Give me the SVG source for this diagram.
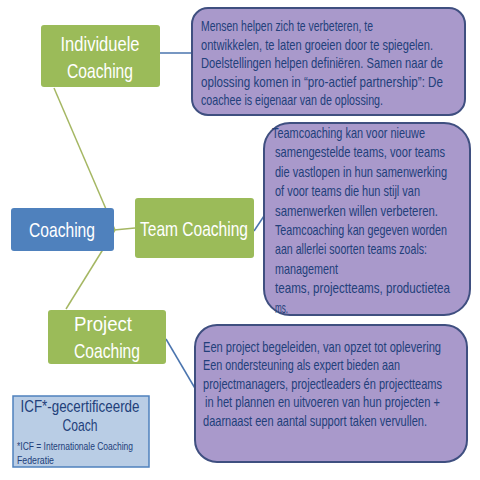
<svg xmlns="http://www.w3.org/2000/svg" width="480" height="480" viewBox="0 0 480 480">
<style>
.g{fill:#9BBB59;}
.w{fill:#fff;font-family:"Liberation Sans",Arial,sans-serif;font-size:21px;text-anchor:middle;}
.p{fill:#A999CB;stroke:#3F4F80;stroke-width:2;}
.t{fill:#22407A;font-family:"Liberation Sans",Arial,sans-serif;font-size:14.5px;}
.s{fill:#22407A;font-family:"Liberation Sans",Arial,sans-serif;}
.cg{stroke:#A5B763;stroke-width:1.5;fill:none;}
.cb{stroke:#4A74AE;stroke-width:1.5;fill:none;}
</style>
<rect width="480" height="480" fill="#fff"/>
<g id="connectors">
<line class="cg" x1="115" y1="230" x2="54" y2="88"/>
<line class="cg" x1="114" y1="230" x2="135" y2="228"/>
<line class="cg" x1="115" y1="230" x2="66" y2="309"/>
<line class="cb" x1="160" y1="53" x2="193" y2="53"/>
<line class="cb" x1="254" y1="231" x2="264" y2="216"/>
<line class="cb" x1="166" y1="339" x2="196" y2="390"/>
</g>
<g id="coaching">
<rect x="11" y="208" width="103" height="43" rx="3" fill="#4F81BD"/>
<text class="w" x="62" y="237" textLength="66" lengthAdjust="spacingAndGlyphs">Coaching</text>
</g>
<g id="individuele">
<rect class="g" x="41" y="25" width="119" height="62" rx="3"/>
<text class="w" x="100" y="51" textLength="79" lengthAdjust="spacingAndGlyphs">Individuele</text>
<text class="w" x="100" y="78" textLength="66" lengthAdjust="spacingAndGlyphs">Coaching</text>
</g>
<g id="team">
<rect class="g" x="135" y="198" width="119" height="60" rx="3"/>
<text class="w" x="194" y="236" textLength="108" lengthAdjust="spacingAndGlyphs">Team Coaching</text>
</g>
<g id="project">
<rect class="g" x="48" y="310" width="118" height="54" rx="3"/>
<text class="w" x="103" y="331" textLength="58" lengthAdjust="spacingAndGlyphs">Project</text>
<text class="w" x="107" y="358" textLength="66" lengthAdjust="spacingAndGlyphs">Coaching</text>
</g>
<g id="desc-individueel">
<rect class="p" x="192" y="8" width="273" height="107" rx="16"/>
<text class="t" x="201" y="31" textLength="172" lengthAdjust="spacingAndGlyphs">Mensen helpen zich te verbeteren, te</text>
<text class="t" x="201" y="50" textLength="232" lengthAdjust="spacingAndGlyphs">ontwikkelen, te laten groeien door te spiegelen.</text>
<text class="t" x="201" y="68" textLength="242" lengthAdjust="spacingAndGlyphs">Doelstellingen helpen definiëren. Samen naar de</text>
<text class="t" x="201" y="87" textLength="242" lengthAdjust="spacingAndGlyphs">oplossing komen in “pro-actief partnership”: De</text>
<text class="t" x="201" y="105" textLength="182" lengthAdjust="spacingAndGlyphs">coachee is eigenaar van de oplossing.</text>
</g>
<g id="desc-team">
<rect class="p" x="264" y="123" width="206" height="192" rx="26"/>
<text class="t" x="272" y="138" textLength="153" lengthAdjust="spacingAndGlyphs">Teamcoaching kan voor nieuwe</text>
<text class="t" x="275" y="157.4" textLength="170" lengthAdjust="spacingAndGlyphs">samengestelde teams, voor teams</text>
<text class="t" x="275" y="176.8" textLength="172" lengthAdjust="spacingAndGlyphs">die vastlopen in hun samenwerking</text>
<text class="t" x="275" y="196.2" textLength="145" lengthAdjust="spacingAndGlyphs">of voor teams die hun stijl van</text>
<text class="t" x="275" y="215.6" textLength="163" lengthAdjust="spacingAndGlyphs">samenwerken willen verbeteren.</text>
<text class="t" x="275" y="235" textLength="172" lengthAdjust="spacingAndGlyphs">Teamcoaching kan gegeven worden</text>
<text class="t" x="275" y="254.4" textLength="152" lengthAdjust="spacingAndGlyphs">aan allerlei soorten teams zoals:</text>
<text class="t" x="275" y="273.8" textLength="63" lengthAdjust="spacingAndGlyphs">management</text>
<text class="t" x="275" y="293.2" textLength="175" lengthAdjust="spacingAndGlyphs">teams, projectteams, productietea</text>
<text class="t" x="275" y="312.6" textLength="13" lengthAdjust="spacingAndGlyphs">ms.</text>
</g>
<g id="desc-project">
<rect class="p" x="195" y="325" width="272" height="137" rx="22"/>
<text class="t" x="203" y="352" textLength="238" lengthAdjust="spacingAndGlyphs">Een project begeleiden, van opzet tot oplevering</text>
<text class="t" x="203" y="370" textLength="197" lengthAdjust="spacingAndGlyphs">Een ondersteuning als expert bieden aan</text>
<text class="t" x="203" y="388.5" textLength="239" lengthAdjust="spacingAndGlyphs">projectmanagers, projectleaders én projectteams</text>
<text class="t" x="205" y="407" textLength="235" lengthAdjust="spacingAndGlyphs">in het plannen en uitvoeren van hun projecten +</text>
<text class="t" x="203" y="426" textLength="224" lengthAdjust="spacingAndGlyphs">daarnaast een aantal support taken vervullen.</text>
</g>
<g id="icf">
<rect x="13" y="396" width="136" height="71" fill="#B9CDE5" stroke="#4F81BD" stroke-width="1.5"/>
<text class="s" x="80" y="412" font-size="17" text-anchor="middle" textLength="119" lengthAdjust="spacingAndGlyphs">ICF*-gecertificeerde</text>
<text class="s" x="80" y="431" font-size="17" text-anchor="middle" textLength="35" lengthAdjust="spacingAndGlyphs">Coach</text>
<text class="s" x="17" y="450" font-size="11" textLength="116" lengthAdjust="spacingAndGlyphs">*ICF = Internationale Coaching</text>
<text class="s" x="17" y="464" font-size="11" textLength="37" lengthAdjust="spacingAndGlyphs">Federatie</text>
</g>
</svg>
